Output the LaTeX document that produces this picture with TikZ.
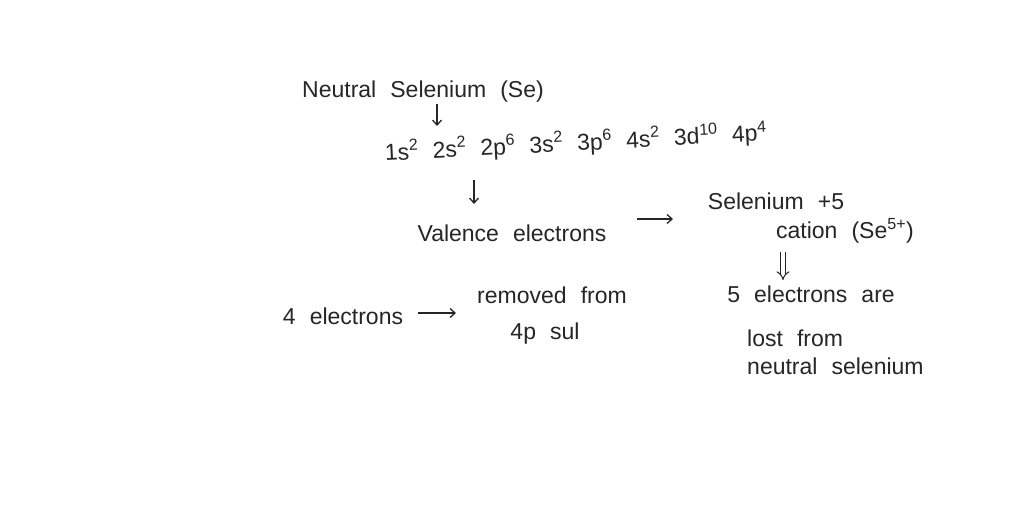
\documentclass[tikz,border=0pt]{standalone}
\usepackage{fontspec}
\setmainfont{Liberation Sans}[WordSpace=2.2]
\usetikzlibrary{arrows.meta}
\begin{document}
\begin{tikzpicture}[x=1pt,y=-1pt,
  txt/.style={font=\fontsize{23}{26}\selectfont, text=black!85, inner sep=1pt, anchor=center},
  arr/.style={-{Straight Barb[length=5pt,width=9pt]}, line width=1.3pt, draw=black!85},
  darr/.style={-{Implies}, double, double distance=3.5pt, line width=1pt, draw=black!85}]
\useasboundingbox[fill=white] (0,0) rectangle (1024,512);
\newcommand{\su}[1]{\textsuperscript{#1}}
\node[txt] (ns) at (423,92) {Neutral Selenium (Se)};
\node[txt, rotate=3] (cfg) at (576,143) {1s\su{2} 2s\su{2} 2p\su{6} 3s\su{2} 3p\su{6} 4s\su{2} 3d\su{10} 4p\su{4}};
\node[txt] (val) at (512,233) {Valence electrons};
\node[txt] (sel) at (776,201) {Selenium +5};
\node[txt] (cat) at (845,231) {cation (Se\su{5+})};
\node[txt] (five) at (811,294) {5 electrons are};
\node[txt, anchor=west] (lost) at (746,338) {lost from};
\node[txt, anchor=west] (neut) at (746,366) {neutral selenium};
\node[txt] (four) at (343,316) {4 electrons};
\node[txt] (rem) at (552,295) {removed from};
\node[txt] (sub) at (545,334) {4p sul};
\coordinate (a1s) at (437,104); \coordinate (a1e) at (437,126);
\draw[arr] (a1s) -- (a1e);
\coordinate (a2s) at (474,180); \coordinate (a2e) at (474,204);
\draw[arr] (a2s) -- (a2e);
\coordinate (a3s) at (637,219); \coordinate (a3e) at (673,219);
\draw[arr] (a3s) -- (a3e);
\coordinate (a5s) at (783,252); \coordinate (a5e) at (783,280);
\draw[darr] (a5s) -- (a5e);
\coordinate (a4s) at (418,313); \coordinate (a4e) at (456,313);
\draw[arr] (a4s) -- (a4e);
\end{tikzpicture}
\end{document}
